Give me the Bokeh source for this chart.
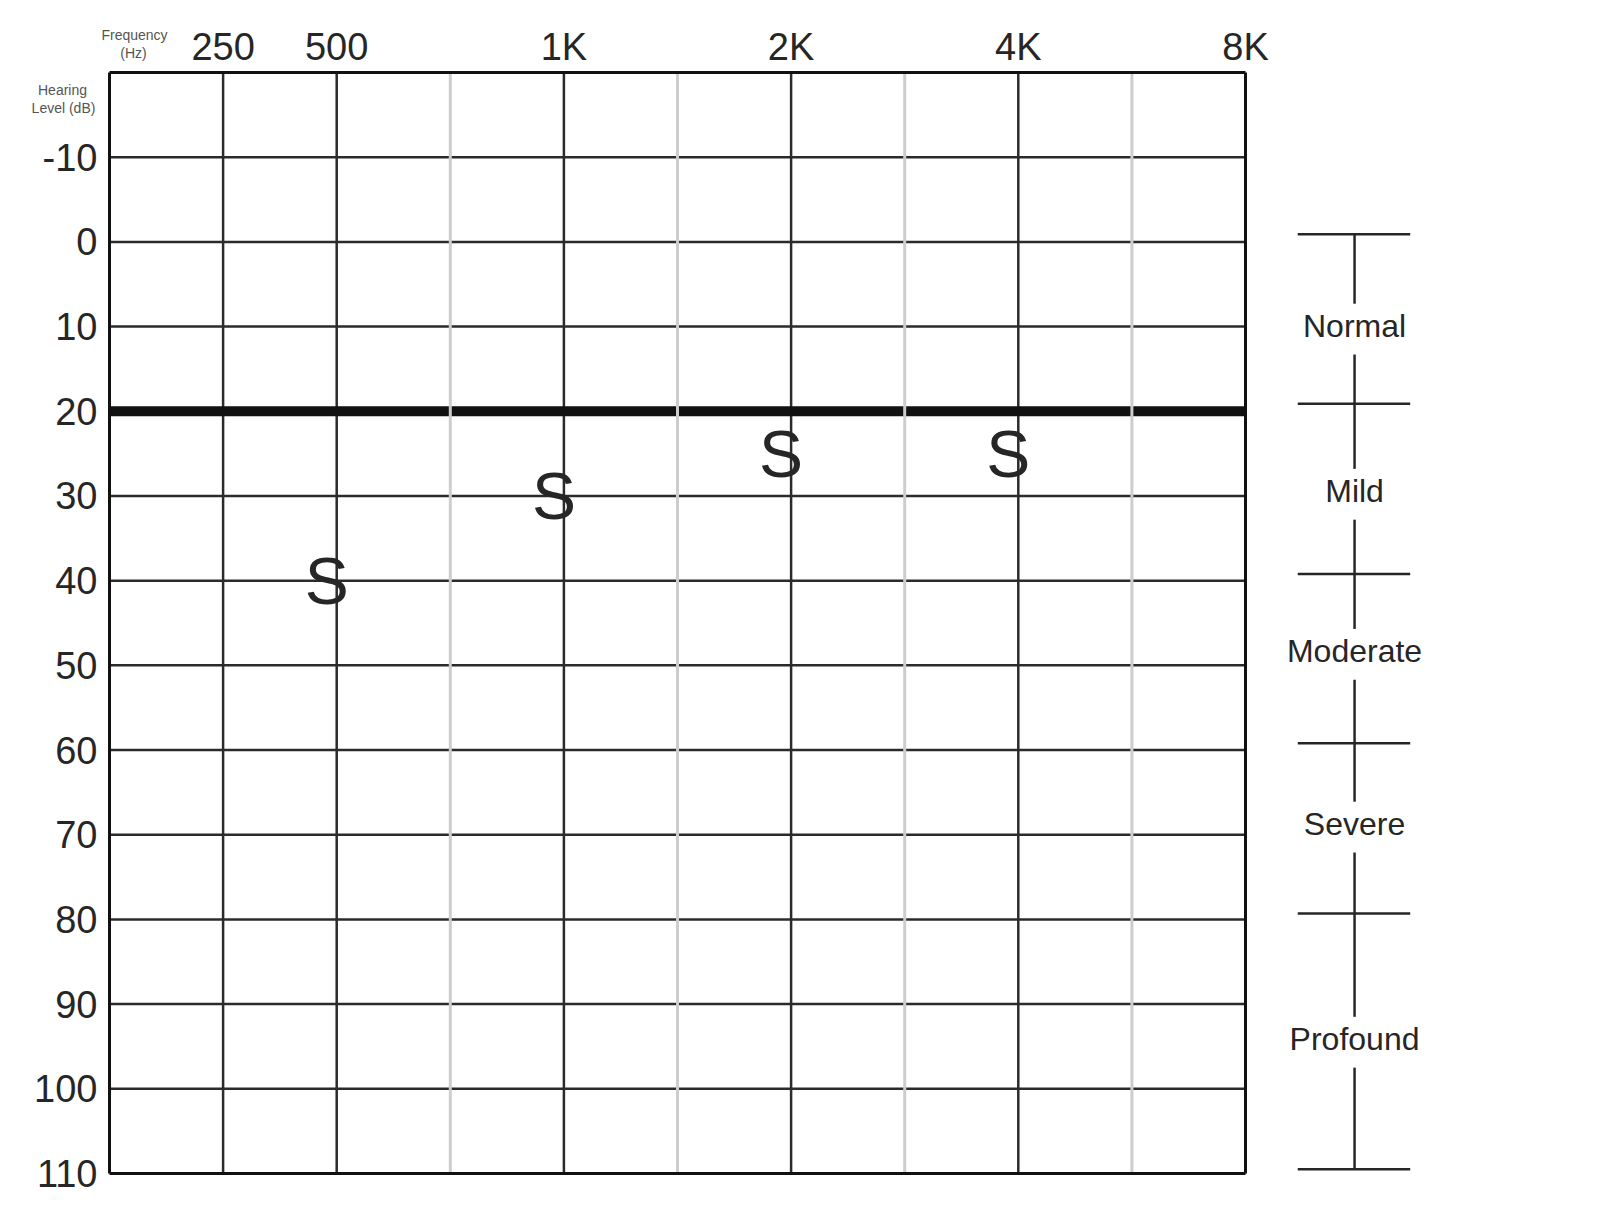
from bokeh.plotting import figure
from bokeh.models import Range1d, FixedTicker
from bokeh.core.properties import value
from bokeh.embed import file_html
from bokeh.resources import INLINE

# ---------------- data ----------------
freq_grid = [125, 250, 500, 750, 1000, 1500, 2000, 3000, 4000, 6000, 8000]
labeled_freqs = [250, 500, 1000, 2000, 4000, 8000]
freq_labels = ["250", "500", "1K", "2K", "4K", "8K"]
dark_freqs = [250, 500, 1000, 2000, 4000]
light_freqs = [750, 1500, 3000, 6000]
hl_ticks = [-10, 0, 10, 20, 30, 40, 50, 60, 70, 80, 90, 100, 110]
normal_limit = 20

test_freqs = [500, 1000, 2000, 4000]
thresholds = [40, 30, 25, 25]
symbol = "S"

severity_names = ["Normal", "Mild", "Moderate", "Severe", "Profound"]
severity_bounds = [-0.9, 19.1, 39.2, 59.2, 79.3, 109.5]
severity_label_at = [9.9, 29.4, 48.3, 68.7, 94.1]

freq_caption = ["Frequency", "(Hz)"]
level_caption = ["Hearing", "Level (dB)"]

# ---------------- helpers ----------------
def fx(f):
    return freq_grid.index(f)

X_MIN, X_MAX = fx(freq_grid[0]), fx(freq_grid[-1])
Y_TOP, Y_BOT = -20, 110
FONT = value("Liberation Sans")
INK = "#262626"

# frame spans the whole canvas; grid area occupies pixels 109..1245 x 72..1173
W, H = 1500, 1200
GX0, GX1, GY0, GY1 = 109.0, 1245.0, 72.0, 1173.0
ux = (GX1 - GX0) / (X_MAX - X_MIN)
uy = (GY1 - GY0) / (Y_BOT - Y_TOP)

p = figure(width=W, height=H, output_backend="svg", toolbar_location=None,
           x_range=Range1d(X_MIN - GX0 / ux, X_MAX + (W - GX1) / ux),
           y_range=Range1d(Y_BOT + (H - GY1) / uy, Y_TOP - GY0 / uy),
           x_axis_location="above",
           min_border_left=0, min_border_top=0, min_border_right=0, min_border_bottom=0)
p.outline_line_color = None
p.background_fill_color = "white"
p.border_fill_color = "white"
p.xgrid.visible = False
p.ygrid.visible = False

# axes, pinned to the grid's edges
xa = p.xaxis[0]
xa.fixed_location = Y_TOP
xa.ticker = FixedTicker(ticks=[fx(f) for f in labeled_freqs])
xa.major_label_overrides = {fx(f): lab for f, lab in zip(labeled_freqs, freq_labels)}
ya = p.yaxis[0]
ya.fixed_location = X_MIN
ya.ticker = FixedTicker(ticks=hl_ticks)
ya.major_label_overrides = {t: str(t) for t in hl_ticks}
for ax in (xa, ya):
    ax.axis_line_color = None
    ax.major_tick_line_color = None
    ax.minor_tick_line_color = None
    ax.major_tick_out = 0
    ax.major_tick_in = 0
    ax.major_label_text_font = "Liberation Sans"
    ax.major_label_text_font_size = "38px"
    ax.major_label_text_color = INK
xa.major_label_standoff = 5
ya.major_label_standoff = 12

# horizontal gridlines
hx0, hy0, hx1, hy1 = [], [], [], []
for lv in hl_ticks:
    if lv in (normal_limit, Y_BOT):
        continue
    hx0.append(X_MIN); hx1.append(X_MAX); hy0.append(lv); hy1.append(lv)
p.segment(hx0, hy0, hx1, hy1, line_color="#2b2b2b", line_width=2.5)

# dark vertical gridlines
p.segment([fx(f) for f in dark_freqs], [Y_TOP] * len(dark_freqs),
          [fx(f) for f in dark_freqs], [Y_BOT] * len(dark_freqs),
          line_color="#2b2b2b", line_width=2.5)

# thick normal-limit line
p.segment([X_MIN], [normal_limit], [X_MAX], [normal_limit], line_color="#111111", line_width=10)

# light vertical gridlines
p.segment([fx(f) for f in light_freqs], [Y_TOP] * len(light_freqs),
          [fx(f) for f in light_freqs], [Y_BOT] * len(light_freqs),
          line_color="#cdcdcd", line_width=3)

# frame box
p.segment([X_MIN, X_MIN, X_MAX, X_MIN], [Y_TOP, Y_TOP, Y_TOP, Y_BOT],
          [X_MAX, X_MIN, X_MAX, X_MAX], [Y_TOP, Y_BOT, Y_BOT, Y_BOT],
          line_color="#111111", line_width=3)

# symbols
p.text(x=[fx(f) for f in test_freqs], y=thresholds, text=[symbol] * len(test_freqs),
       text_font=FONT, text_font_size="66px", text_color=INK,
       text_align="center", text_baseline="middle", x_offset=-10)

# severity scale on the right
SX, SX0, SX1 = 10.96, 10.46, 11.45
p.segment([SX0] * len(severity_bounds), severity_bounds, [SX1] * len(severity_bounds), severity_bounds,
          line_color=INK, line_width=2.5)
vy0, vy1 = [], []
start = severity_bounds[0]
for lab_y in severity_label_at:
    vy0.append(start); vy1.append(lab_y - 2.6)
    start = lab_y + 3.4
vy0.append(start); vy1.append(severity_bounds[-1])
p.segment([SX] * len(vy0), vy0, [SX] * len(vy1), vy1, line_color=INK, line_width=2.5)
p.text(x=[SX] * len(severity_names), y=severity_label_at, text=severity_names,
       text_font=FONT, text_font_size="32px", text_color=INK,
       text_align="center", text_baseline="middle")

# corner captions (offsets in pixels from the grid's top-left corner)
p.text(x=[X_MIN] * 2, y=[Y_TOP] * 2, text=freq_caption,
       x_offset=[25, 24], y_offset=[-38, -20],
       text_font=FONT, text_font_size="14px", text_color="#555555",
       text_align="center", text_baseline="middle")
p.text(x=[X_MIN] * 2, y=[Y_TOP] * 2, text=level_caption,
       x_offset=[-47, -46], y_offset=[17, 35],
       text_font=FONT, text_font_size="14px", text_color="#555555",
       text_align="center", text_baseline="middle")

open("out.html", "w").write(file_html(p, INLINE))
